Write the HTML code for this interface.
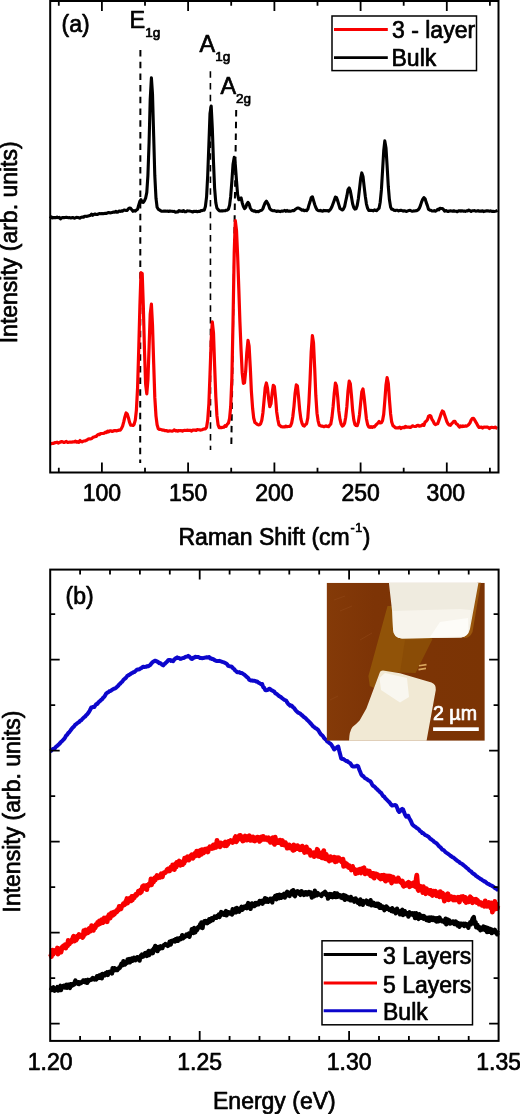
<!DOCTYPE html>
<html><head><meta charset="utf-8"><title>Figure</title>
<style>html,body{margin:0;padding:0;background:#fff;width:520px;height:1114px;overflow:hidden}svg{display:block}</style>
</head><body>
<svg width="520" height="1114" viewBox="0 0 520 1114" font-family="'Liberation Sans', Arial, Helvetica, sans-serif">
<style>text{fill:#000;stroke:#000;stroke-width:0.7px;stroke-linejoin:round}text.w{fill:#fff;stroke:#fff;stroke-width:0.7px}</style>
<rect x="0" y="0" width="520" height="1114" fill="#fff"/>
<g id="pa">
<g stroke="#000" stroke-width="2" stroke-dasharray="6.5 5.2" fill="none">
<line x1="140.4" y1="50" x2="140.2" y2="463"/>
<line x1="210.4" y1="71.3" x2="210.5" y2="450" stroke-width="1.6"/>
<line x1="236.2" y1="110" x2="231.3" y2="447"/>
</g>
<polyline fill="none" stroke="#000" stroke-width="3.1" stroke-linejoin="round" points="50.2,218.5 51.4,216.9 52.5,217.9 53.6,217.6 54.8,217.6 55.9,217.7 57.1,217.0 58.2,217.7 59.4,217.4 60.5,218.9 61.7,217.8 62.8,217.6 64.0,217.6 65.1,217.5 66.3,217.3 67.4,217.5 68.6,217.8 69.7,217.6 70.9,218.0 72.0,217.6 73.2,217.6 74.3,218.2 75.5,217.8 76.6,217.4 77.8,217.5 78.9,217.8 80.1,218.2 81.2,217.2 82.4,217.0 83.5,217.2 84.7,216.2 85.8,216.2 87.0,216.4 88.1,216.0 89.3,215.6 90.4,215.5 91.6,214.1 92.7,215.3 93.9,214.4 95.0,214.0 96.2,214.5 97.3,214.5 98.5,213.9 99.6,213.5 100.8,213.7 101.9,213.5 103.1,213.8 104.2,213.5 105.4,213.2 106.5,213.4 107.7,212.8 108.8,212.5 110.0,212.9 111.1,212.8 112.3,212.4 113.4,212.1 114.6,212.3 115.7,211.3 116.9,212.3 118.0,212.0 119.2,211.0 120.3,211.4 121.5,210.8 122.6,211.2 123.8,210.0 124.9,210.1 126.1,210.5 127.2,210.4 128.4,208.8 129.5,208.0 130.7,208.3 131.8,209.8 133.0,211.3 134.1,210.6 135.3,211.1 136.4,210.1 137.6,209.2 138.7,205.1 139.9,201.1 141.0,199.7 142.2,202.3 143.3,202.4 144.5,200.6 145.6,198.2 146.8,192.4 147.9,175.6 149.1,141.7 150.2,99.7 151.4,77.8 152.5,93.9 153.7,136.5 154.8,175.7 156.0,198.3 157.1,207.3 158.3,209.3 159.4,209.9 160.6,210.7 161.7,211.3 162.9,211.3 164.0,211.1 165.2,211.0 166.3,211.3 167.5,211.1 168.6,211.5 169.8,211.0 170.9,211.3 172.1,211.3 173.2,211.5 174.4,211.4 175.5,212.2 176.7,211.9 177.8,211.9 179.0,210.6 180.1,211.2 181.3,211.1 182.4,211.5 183.6,210.6 184.7,211.8 185.9,211.7 187.0,210.9 188.2,211.0 189.3,211.0 190.5,211.3 191.6,211.5 192.8,212.0 193.9,211.2 195.1,211.5 196.2,211.3 197.4,211.8 198.5,211.4 199.7,211.5 200.8,210.6 202.0,210.7 203.1,210.2 204.3,210.1 205.4,206.5 206.6,196.6 207.7,175.5 208.9,143.8 210.0,113.5 211.2,106.1 212.3,127.9 213.5,162.0 214.6,188.1 215.8,202.6 216.9,208.0 218.1,209.6 219.2,210.7 220.4,211.0 221.5,210.8 222.7,210.9 223.8,210.8 225.0,210.8 226.1,210.2 227.3,210.2 228.4,209.2 229.6,205.1 230.7,196.2 231.9,180.9 233.0,164.5 234.2,157.4 235.3,164.4 236.5,180.6 237.6,194.5 238.8,199.7 239.9,199.3 241.1,197.9 242.2,202.7 243.4,206.6 244.5,208.6 245.7,207.4 246.8,204.2 248.0,202.3 249.1,203.9 250.3,208.0 251.4,209.7 252.6,210.7 253.7,211.2 254.9,210.8 256.0,211.8 257.2,211.4 258.3,211.8 259.5,210.9 260.6,210.6 261.8,210.1 262.9,208.6 264.1,205.3 265.2,202.6 266.4,201.1 267.5,203.0 268.7,205.3 269.8,208.7 271.0,209.8 272.1,210.4 273.3,210.7 274.4,210.6 275.6,211.1 276.7,211.4 277.9,211.1 279.0,211.2 280.2,211.6 281.3,211.1 282.5,211.1 283.6,210.9 284.8,210.4 285.9,211.3 287.1,210.4 288.2,211.2 289.4,211.0 290.5,211.3 291.7,210.9 292.8,210.5 294.0,210.6 295.1,209.5 296.3,208.7 297.4,208.0 298.6,208.0 299.7,208.7 300.9,209.4 302.0,210.3 303.2,209.9 304.3,210.7 305.5,210.2 306.6,210.6 307.8,209.3 308.9,205.2 310.1,201.6 311.2,197.8 312.4,196.8 313.5,200.4 314.7,204.5 315.8,207.5 317.0,209.8 318.1,210.5 319.3,210.8 320.4,210.4 321.6,211.0 322.7,211.1 323.9,210.4 325.0,210.6 326.2,210.8 327.3,210.6 328.5,211.2 329.6,210.3 330.8,208.9 331.9,206.7 333.1,203.5 334.2,200.4 335.4,197.0 336.5,197.6 337.7,200.9 338.8,204.6 340.0,208.5 341.1,209.2 342.3,210.0 343.4,209.0 344.6,206.6 345.7,201.3 346.9,195.9 348.0,189.6 349.2,187.9 350.3,190.9 351.5,197.3 352.6,203.7 353.8,207.6 354.9,209.1 356.1,208.7 357.2,205.4 358.4,198.5 359.5,188.8 360.7,178.4 361.8,172.9 363.0,176.4 364.1,186.1 365.3,196.3 366.4,203.8 367.6,208.3 368.7,210.4 369.9,210.2 371.0,210.4 372.2,210.5 373.3,210.9 374.5,209.8 375.6,210.5 376.8,210.6 377.9,209.3 379.1,208.1 380.2,202.2 381.4,189.9 382.5,171.5 383.7,151.0 384.8,140.9 386.0,148.1 387.1,165.7 388.3,186.5 389.4,199.6 390.6,207.0 391.7,209.3 392.9,209.4 394.0,210.3 395.2,210.6 396.3,210.3 397.5,210.2 398.6,210.9 399.8,210.5 400.9,210.2 402.1,210.6 403.2,211.1 404.4,210.7 405.5,211.2 406.7,211.4 407.8,210.9 409.0,210.5 410.1,210.4 411.3,210.9 412.4,211.2 413.6,210.9 414.7,211.0 415.9,210.6 417.0,210.6 418.2,209.7 419.3,208.3 420.5,205.4 421.6,201.9 422.8,199.2 423.9,197.6 425.1,198.8 426.2,202.4 427.4,205.6 428.5,209.2 429.7,210.1 430.8,210.2 432.0,211.0 433.1,211.0 434.3,210.6 435.4,211.3 436.6,210.5 437.7,209.3 438.9,209.8 440.0,208.2 441.2,208.5 442.3,208.5 443.5,209.5 444.6,211.2 445.8,210.5 446.9,211.0 448.1,211.5 449.2,211.0 450.4,210.9 451.5,211.0 452.7,211.3 453.8,210.7 455.0,211.2 456.1,211.2 457.3,211.8 458.4,210.9 459.6,210.7 460.7,211.2 461.9,210.8 463.0,211.1 464.2,211.0 465.3,211.4 466.5,210.8 467.6,210.9 468.8,210.1 469.9,210.7 471.1,211.5 472.2,210.7 473.4,210.7 474.5,210.6 475.7,211.2 476.8,211.0 478.0,210.6 479.1,211.2 480.3,211.1 481.4,211.3 482.6,210.8 483.7,211.6 484.9,211.1 486.0,210.9 487.2,210.8 488.3,210.9 489.5,211.3 490.6,210.9 491.8,211.4 492.9,211.2 494.1,211.5 495.2,211.3 496.4,211.0 497.5,210.3"/>
<polyline fill="none" stroke="#f80000" stroke-width="3.2" stroke-linejoin="round" points="50.2,443.6 51.4,443.7 52.5,443.3 53.6,443.3 54.8,442.7 55.9,442.6 57.1,442.2 58.2,443.1 59.4,442.5 60.5,442.0 61.7,441.5 62.8,441.9 64.0,442.5 65.1,442.0 66.3,441.4 67.4,442.3 68.6,442.3 69.7,442.1 70.9,442.0 72.0,442.1 73.2,441.8 74.3,441.9 75.5,441.2 76.6,442.2 77.8,441.6 78.9,442.3 80.1,440.5 81.2,441.7 82.4,441.8 83.5,441.0 84.7,440.9 85.8,440.6 87.0,440.1 88.1,439.1 89.3,438.9 90.4,439.0 91.6,438.6 92.7,437.6 93.9,437.1 95.0,436.6 96.2,436.5 97.3,435.1 98.5,434.4 99.6,434.6 100.8,433.6 101.9,433.5 103.1,433.4 104.2,433.2 105.4,432.2 106.5,432.6 107.7,431.1 108.8,431.8 110.0,430.8 111.1,430.8 112.3,431.5 113.4,430.9 114.6,430.6 115.7,430.6 116.9,430.9 118.0,430.4 119.2,430.1 120.3,430.1 121.5,428.4 122.6,426.1 123.8,421.7 124.9,416.9 126.1,413.0 127.2,413.9 128.4,417.7 129.5,422.1 130.7,425.1 131.8,425.3 133.0,425.5 134.1,424.4 135.3,420.1 136.4,410.1 137.6,387.4 138.7,350.5 139.9,306.0 141.0,272.7 142.2,273.6 143.3,305.5 144.5,350.5 145.6,383.7 146.8,393.8 147.9,380.4 149.1,346.8 150.2,314.3 151.4,304.2 152.5,325.2 153.7,363.9 154.8,397.4 156.0,416.1 157.1,424.8 158.3,428.7 159.4,429.5 160.6,429.4 161.7,429.9 162.9,430.1 164.0,430.2 165.2,430.7 166.3,430.5 167.5,431.2 168.6,431.1 169.8,430.8 170.9,431.0 172.1,431.1 173.2,430.8 174.4,429.9 175.5,430.9 176.7,430.5 177.8,431.2 179.0,430.5 180.1,430.7 181.3,430.6 182.4,431.2 183.6,430.5 184.7,430.3 185.9,430.5 187.0,430.2 188.2,430.4 189.3,430.3 190.5,430.4 191.6,431.1 192.8,430.1 193.9,430.2 195.1,430.1 196.2,430.4 197.4,429.5 198.5,429.7 199.7,429.9 200.8,430.1 202.0,429.7 203.1,429.3 204.3,428.9 205.4,428.9 206.6,427.3 207.7,420.1 208.9,403.6 210.0,374.6 211.2,340.2 212.3,321.8 213.5,333.0 214.6,365.1 215.8,396.4 216.9,415.4 218.1,424.9 219.2,427.7 220.4,427.4 221.5,427.6 222.7,427.3 223.8,427.2 225.0,425.6 226.1,426.3 227.3,424.2 228.4,423.1 229.6,418.4 230.7,406.5 231.9,377.4 233.0,322.5 234.2,253.4 235.3,220.6 236.5,230.5 237.6,254.8 238.8,288.6 239.9,321.6 241.1,350.5 242.2,372.7 243.4,383.3 244.5,382.8 245.7,370.8 246.8,352.6 248.0,340.4 249.1,346.1 250.3,367.5 251.4,391.7 252.6,408.3 253.7,418.0 254.9,422.5 256.0,423.3 257.2,424.4 258.3,424.9 259.5,424.7 260.6,423.8 261.8,420.2 262.9,413.0 264.1,400.0 265.2,387.6 266.4,383.0 267.5,388.1 268.7,399.2 269.8,406.7 271.0,403.7 272.1,393.6 273.3,385.3 274.4,386.6 275.6,398.1 276.7,412.0 277.9,419.8 279.0,424.9 280.2,425.8 281.3,426.7 282.5,426.8 283.6,426.9 284.8,426.9 285.9,426.1 287.1,426.7 288.2,426.5 289.4,426.4 290.5,426.0 291.7,422.9 292.8,416.8 294.0,406.1 295.1,393.2 296.3,384.9 297.4,385.9 298.6,397.7 299.7,410.1 300.9,419.1 302.0,423.2 303.2,425.6 304.3,426.1 305.5,424.5 306.6,423.8 307.8,417.9 308.9,402.9 310.1,378.6 311.2,351.9 312.4,335.7 313.5,342.7 314.7,368.5 315.8,395.2 317.0,413.2 318.1,420.8 319.3,425.3 320.4,425.6 321.6,426.2 322.7,426.2 323.9,426.7 325.0,426.2 326.2,425.9 327.3,426.5 328.5,426.7 329.6,425.3 330.8,424.0 331.9,417.8 333.1,406.7 334.2,393.8 335.4,383.1 336.5,385.9 337.7,397.1 338.8,411.0 340.0,419.4 341.1,423.9 342.3,426.1 343.4,425.4 344.6,423.3 345.7,417.3 346.9,406.4 348.0,391.1 349.2,381.2 350.3,383.7 351.5,395.8 352.6,410.0 353.8,419.9 354.9,424.3 356.1,425.5 357.2,425.7 358.4,422.1 359.5,414.7 360.7,402.7 361.8,391.9 363.0,388.9 364.1,397.0 365.3,408.3 366.4,418.7 367.6,424.5 368.7,426.9 369.9,427.3 371.0,426.6 372.2,427.3 373.3,426.6 374.5,426.9 375.6,425.4 376.8,424.1 377.9,423.1 379.1,421.5 380.2,422.9 381.4,422.7 382.5,420.8 383.7,414.4 384.8,401.1 386.0,384.9 387.1,377.7 388.3,383.4 389.4,399.1 390.6,413.9 391.7,422.1 392.9,425.6 394.0,426.4 395.2,427.6 396.3,427.9 397.5,427.9 398.6,427.8 399.8,427.2 400.9,428.5 402.1,427.5 403.2,427.4 404.4,427.7 405.5,426.3 406.7,427.1 407.8,427.0 409.0,427.1 410.1,427.4 411.3,426.9 412.4,425.8 413.6,426.3 414.7,426.5 415.9,426.3 417.0,425.6 418.2,425.3 419.3,426.1 420.5,425.9 421.6,425.5 422.8,424.5 423.9,425.4 425.1,422.0 426.2,421.2 427.4,419.8 428.5,416.4 429.7,415.6 430.8,416.0 432.0,419.6 433.1,421.0 434.3,423.6 435.4,424.6 436.6,424.0 437.7,423.8 438.9,420.4 440.0,417.2 441.2,413.6 442.3,411.0 443.5,411.8 444.6,415.0 445.8,418.5 446.9,421.8 448.1,424.0 449.2,424.9 450.4,425.3 451.5,423.8 452.7,422.6 453.8,421.4 455.0,421.4 456.1,423.6 457.3,424.3 458.4,425.8 459.6,427.0 460.7,426.0 461.9,426.6 463.0,425.9 464.2,426.4 465.3,425.9 466.5,426.2 467.6,425.5 468.8,424.5 469.9,423.1 471.1,420.2 472.2,418.6 473.4,418.3 474.5,419.8 475.7,421.9 476.8,423.7 478.0,426.0 479.1,427.5 480.3,427.3 481.4,427.0 482.6,428.1 483.7,427.2 484.9,427.2 486.0,427.0 487.2,427.1 488.3,427.5 489.5,428.5 490.6,427.6 491.8,427.3 492.9,427.5 494.1,427.7 495.2,427.1 496.4,428.0 497.5,428.3"/>
<rect x="50.2" y="1.0" width="448.3" height="471.5" fill="none" stroke="#000" stroke-width="2"/>
<path d="M58.8,472.5v-4.8M58.8,1.0v4.8M101.9,472.5v-10M101.9,1.0v10M145.0,472.5v-4.8M145.0,1.0v4.8M188.1,472.5v-10M188.1,1.0v10M231.2,472.5v-4.8M231.2,1.0v4.8M274.4,472.5v-10M274.4,1.0v10M317.5,472.5v-4.8M317.5,1.0v4.8M360.6,472.5v-10M360.6,1.0v10M403.7,472.5v-4.8M403.7,1.0v4.8M446.8,472.5v-10M446.8,1.0v10M489.9,472.5v-4.8M489.9,1.0v4.8" stroke="#000" stroke-width="1.8" fill="none"/>
<text x="101.9" y="500.5" font-size="23" text-anchor="middle">100</text>
<text x="188.1" y="500.5" font-size="23" text-anchor="middle">150</text>
<text x="274.4" y="500.5" font-size="23" text-anchor="middle">200</text>
<text x="360.6" y="500.5" font-size="23" text-anchor="middle">250</text>
<text x="445.8" y="500.5" font-size="23" text-anchor="middle">300</text>
<text x="178.5" y="545" font-size="23">Raman Shift (cm<tspan font-size="12.5" dy="-13.2" dx="0.8">-</tspan><tspan font-size="12.5" dx="0.6">1</tspan><tspan dy="13.2" dx="0.4">)</tspan></text>
<text transform="translate(17.3,343.3) rotate(-90)" font-size="23">Intensity (arb. units)</text>
<text x="61.5" y="32.2" font-size="23">(a)</text>
<text x="129.6" y="27.9" font-size="23.5">E<tspan font-size="13.5" dy="8.6">1g</tspan></text>
<text x="199.5" y="52" font-size="23.5">A<tspan font-size="13.5" dy="9">1g</tspan></text>
<text x="220.4" y="94" font-size="23.5">A<tspan font-size="13.5" dy="9.3">2g</tspan></text>
<rect x="332" y="16" width="144.5" height="54.6" fill="#fff" stroke="#000" stroke-width="1.5"/>
<line x1="334" y1="29.5" x2="387.8" y2="29.5" stroke="#f80000" stroke-width="3"/>
<line x1="334" y1="57.7" x2="387.8" y2="57.7" stroke="#000" stroke-width="2.8"/>
<text x="392" y="38" font-size="23">3 - layer</text>
<text x="391.5" y="66" font-size="23">Bulk</text>
</g>
<g id="pb">
<polyline fill="none" stroke="#000" stroke-width="4.3" stroke-linejoin="round" points="50.2,990.5 50.8,990.3 51.4,989.0 52.0,989.5 52.6,987.6 53.2,987.3 53.8,990.4 54.4,990.8 55.0,989.5 55.6,989.2 56.2,988.1 56.8,988.3 57.4,987.1 58.0,990.6 58.6,987.3 59.2,988.5 59.8,987.8 60.4,985.8 61.0,990.2 61.6,987.0 62.2,986.3 62.8,987.4 63.4,985.9 64.0,987.1 64.6,985.6 65.2,987.6 65.8,986.8 66.4,984.7 67.0,987.8 67.6,986.5 68.2,984.6 68.8,986.4 69.4,986.3 70.0,988.0 70.6,984.1 71.2,986.1 71.8,984.6 72.4,985.3 73.0,983.9 73.6,983.9 74.2,984.4 74.8,981.9 75.4,980.5 76.0,983.1 76.6,982.4 77.2,982.9 77.8,983.6 78.4,982.3 79.0,984.1 79.6,982.3 80.2,982.4 80.8,983.2 81.4,982.8 82.0,981.7 82.6,981.9 83.2,980.5 83.8,980.5 84.4,981.3 85.0,982.1 85.6,980.2 86.2,981.7 86.8,982.9 87.4,982.9 88.0,979.8 88.6,981.0 89.2,980.1 89.8,980.1 90.4,980.0 91.0,979.4 91.6,979.6 92.2,978.6 92.8,977.9 93.4,978.4 94.0,978.6 94.6,979.5 95.2,978.2 95.8,978.6 96.4,979.4 97.0,976.1 97.6,976.9 98.2,977.8 98.8,976.9 99.4,975.4 100.0,977.9 100.6,976.2 101.2,974.8 101.8,978.4 102.4,973.9 103.0,975.4 103.6,974.2 104.2,975.0 104.8,975.4 105.4,973.2 106.0,974.0 106.6,973.7 107.2,972.3 107.8,975.0 108.4,973.4 109.0,972.6 109.6,971.8 110.2,972.1 110.8,972.5 111.4,971.5 112.0,973.5 112.6,968.1 113.2,968.4 113.8,970.6 114.4,968.1 115.0,970.1 115.6,968.8 116.2,970.0 116.8,969.3 117.4,970.0 118.0,969.0 118.6,968.9 119.2,967.5 119.8,967.8 120.4,966.6 121.0,964.8 121.6,963.5 122.2,963.3 122.8,965.3 123.4,961.1 124.0,964.3 124.6,962.7 125.2,964.5 125.8,963.5 126.4,961.9 127.0,962.7 127.6,959.3 128.2,962.5 128.8,962.4 129.4,959.0 130.0,962.4 130.6,960.7 131.2,960.8 131.8,958.4 132.4,960.8 133.0,960.5 133.6,959.4 134.2,957.8 134.8,959.9 135.4,960.3 136.0,958.9 136.6,959.4 137.2,957.1 137.8,957.8 138.4,957.9 139.0,957.3 139.6,960.7 140.2,957.2 140.8,955.7 141.4,957.3 142.0,954.5 142.6,956.2 143.2,956.5 143.8,954.5 144.4,954.4 145.0,953.3 145.6,954.5 146.2,953.1 146.8,956.0 147.4,954.3 148.0,952.8 148.6,950.9 149.2,955.2 149.8,953.9 150.4,952.5 151.0,951.8 151.6,951.5 152.2,950.3 152.8,953.2 153.4,950.6 154.0,948.1 154.6,948.8 155.2,945.9 155.8,950.0 156.4,949.9 157.0,950.9 157.6,951.1 158.2,946.9 158.8,948.3 159.4,948.8 160.0,948.3 160.6,946.3 161.2,947.8 161.8,947.1 162.4,948.1 163.0,946.0 163.6,945.4 164.2,944.8 164.8,944.8 165.4,944.0 166.0,944.3 166.6,945.2 167.2,944.9 167.8,945.9 168.4,945.3 169.0,944.4 169.6,941.8 170.2,943.9 170.8,944.4 171.4,940.9 172.0,940.9 172.6,940.8 173.2,940.4 173.8,941.2 174.4,940.0 175.0,941.5 175.6,939.1 176.2,940.2 176.8,939.4 177.4,938.5 178.0,940.9 178.6,939.2 179.2,939.6 179.8,938.2 180.4,939.3 181.0,938.9 181.6,937.6 182.2,935.1 182.8,938.4 183.4,938.0 184.0,937.1 184.6,936.9 185.2,936.5 185.8,936.4 186.4,934.5 187.0,935.6 187.6,935.8 188.2,934.3 188.8,933.5 189.4,936.9 190.0,934.9 190.6,933.2 191.2,932.6 191.8,929.2 192.4,930.4 193.0,931.4 193.6,933.0 194.2,928.0 194.8,929.3 195.4,932.3 196.0,930.1 196.6,929.3 197.2,929.8 197.8,927.5 198.4,926.9 199.0,927.6 199.6,927.3 200.2,924.2 200.8,927.2 201.4,922.3 202.0,923.3 202.6,928.0 203.2,922.7 203.8,923.9 204.4,921.3 205.0,921.8 205.6,920.9 206.2,921.0 206.8,922.1 207.4,923.2 208.0,921.7 208.6,922.3 209.2,919.2 209.8,921.6 210.4,920.1 211.0,920.9 211.6,918.2 212.2,918.2 212.8,920.1 213.4,918.8 214.0,917.9 214.6,916.6 215.2,917.2 215.8,917.8 216.4,917.9 217.0,915.9 217.6,916.0 218.2,916.8 218.8,914.5 219.4,917.1 220.0,915.6 220.6,915.3 221.2,912.0 221.8,912.9 222.4,913.4 223.0,913.9 223.6,913.0 224.2,914.8 224.8,914.3 225.4,913.6 226.0,911.0 226.6,915.4 227.2,913.0 227.8,914.0 228.4,912.1 229.0,912.8 229.6,913.6 230.2,912.8 230.8,913.6 231.4,911.9 232.0,914.6 232.6,909.2 233.2,910.8 233.8,912.7 234.4,910.9 235.0,910.5 235.6,908.5 236.2,912.3 236.8,908.0 237.4,911.0 238.0,910.4 238.6,911.2 239.2,911.8 239.8,908.7 240.4,908.3 241.0,908.8 241.6,906.7 242.2,909.9 242.8,908.0 243.4,908.5 244.0,906.6 244.6,907.8 245.2,906.8 245.8,907.2 246.4,905.6 247.0,908.2 247.6,905.8 248.2,903.0 248.8,907.1 249.4,905.6 250.0,904.6 250.6,908.9 251.2,905.3 251.8,903.4 252.4,904.2 253.0,905.3 253.6,904.3 254.2,906.1 254.8,905.7 255.4,903.0 256.0,903.9 256.6,904.6 257.2,903.0 257.8,902.7 258.4,904.4 259.0,903.6 259.6,900.9 260.2,901.9 260.8,901.9 261.4,902.1 262.0,901.1 262.6,903.7 263.2,900.4 263.8,900.1 264.4,901.7 265.0,898.2 265.6,899.7 266.2,901.7 266.8,898.9 267.4,899.4 268.0,901.8 268.6,900.8 269.2,900.1 269.8,900.2 270.4,898.8 271.0,899.9 271.6,899.0 272.2,902.5 272.8,899.6 273.4,898.2 274.0,898.3 274.6,898.1 275.2,895.9 275.8,896.4 276.4,899.3 277.0,895.1 277.6,895.9 278.2,897.9 278.8,898.3 279.4,894.7 280.0,897.9 280.6,895.2 281.2,897.8 281.8,896.1 282.4,894.9 283.0,896.1 283.6,895.7 284.2,893.8 284.8,897.6 285.4,894.1 286.0,896.0 286.6,893.6 287.2,891.7 287.8,892.5 288.4,893.7 289.0,894.6 289.6,896.0 290.2,893.6 290.8,893.0 291.4,891.6 292.0,893.2 292.6,893.6 293.2,890.1 293.8,894.9 294.4,894.6 295.0,896.2 295.6,891.9 296.2,893.1 296.8,893.1 297.4,891.3 298.0,891.9 298.6,891.7 299.2,893.8 299.8,893.7 300.4,894.9 301.0,892.6 301.6,891.2 302.2,893.7 302.8,893.7 303.4,894.1 304.0,895.0 304.6,892.5 305.2,894.5 305.8,892.1 306.4,893.7 307.0,894.5 307.6,893.5 308.2,894.0 308.8,891.9 309.4,893.0 310.0,894.2 310.6,892.4 311.2,893.0 311.8,897.5 312.4,894.6 313.0,893.2 313.6,893.0 314.2,896.3 314.8,890.7 315.4,894.0 316.0,895.3 316.6,893.7 317.2,895.2 317.8,893.0 318.4,894.4 319.0,894.5 319.6,894.5 320.2,894.6 320.8,894.5 321.4,896.0 322.0,894.1 322.6,893.6 323.2,894.1 323.8,894.0 324.4,892.4 325.0,891.9 325.6,892.7 326.2,895.0 326.8,893.7 327.4,894.2 328.0,898.7 328.6,896.4 329.2,894.6 329.8,894.1 330.4,896.9 331.0,894.1 331.6,896.9 332.2,896.1 332.8,897.2 333.4,894.4 334.0,896.7 334.6,893.1 335.2,895.3 335.8,897.1 336.4,896.6 337.0,893.3 337.6,896.8 338.2,896.5 338.8,895.9 339.4,895.1 340.0,895.8 340.6,895.5 341.2,897.6 341.8,897.1 342.4,898.0 343.0,897.6 343.6,895.0 344.2,897.1 344.8,899.9 345.4,895.7 346.0,897.8 346.6,896.5 347.2,896.6 347.8,898.3 348.4,899.4 349.0,899.5 349.6,899.3 350.2,900.2 350.8,896.9 351.4,900.4 352.0,900.1 352.6,899.5 353.2,899.9 353.8,898.9 354.4,901.7 355.0,899.3 355.6,898.4 356.2,900.5 356.8,899.9 357.4,900.7 358.0,902.9 358.6,900.8 359.2,901.3 359.8,904.3 360.4,899.4 361.0,901.9 361.6,903.1 362.2,903.7 362.8,904.8 363.4,901.0 364.0,902.9 364.6,902.0 365.2,901.7 365.8,901.4 366.4,900.6 367.0,903.1 367.6,903.8 368.2,901.5 368.8,904.2 369.4,902.5 370.0,902.1 370.6,900.1 371.2,905.3 371.8,905.0 372.4,903.7 373.0,903.8 373.6,902.8 374.2,905.4 374.8,904.8 375.4,905.8 376.0,905.5 376.6,903.6 377.2,903.6 377.8,906.4 378.4,903.8 379.0,906.6 379.6,907.7 380.2,904.9 380.8,907.7 381.4,907.0 382.0,907.9 382.6,906.5 383.2,907.4 383.8,908.2 384.4,910.2 385.0,908.9 385.6,908.7 386.2,906.4 386.8,908.7 387.4,907.4 388.0,908.4 388.6,909.0 389.2,910.0 389.8,909.6 390.4,909.2 391.0,909.0 391.6,911.1 392.2,908.2 392.8,909.6 393.4,911.6 394.0,909.7 394.6,911.2 395.2,911.5 395.8,913.2 396.4,912.2 397.0,908.6 397.6,911.1 398.2,911.6 398.8,912.6 399.4,912.1 400.0,914.4 400.6,913.5 401.2,910.6 401.8,911.5 402.4,909.7 403.0,915.1 403.6,912.7 404.2,912.9 404.8,911.1 405.4,912.8 406.0,914.1 406.6,913.1 407.2,913.2 407.8,913.1 408.4,916.7 409.0,913.4 409.6,912.3 410.2,913.7 410.8,914.0 411.4,914.5 412.0,914.4 412.6,913.3 413.2,914.7 413.8,915.6 414.4,913.3 415.0,918.1 415.6,917.9 416.2,913.2 416.8,915.4 417.4,917.4 418.0,918.1 418.6,918.9 419.2,914.1 419.8,915.3 420.4,916.3 421.0,917.9 421.6,915.8 422.2,918.0 422.8,918.2 423.4,918.7 424.0,916.0 424.6,918.2 425.2,918.1 425.8,917.5 426.4,920.0 427.0,917.9 427.6,920.3 428.2,917.6 428.8,920.8 429.4,920.8 430.0,917.5 430.6,919.1 431.2,919.2 431.8,917.5 432.4,920.0 433.0,919.8 433.6,917.8 434.2,919.2 434.8,920.4 435.4,919.1 436.0,918.4 436.6,921.7 437.2,918.2 437.8,920.1 438.4,921.3 439.0,921.0 439.6,917.5 440.2,919.7 440.8,920.1 441.4,920.1 442.0,921.4 442.6,921.4 443.2,920.9 443.8,921.2 444.4,922.4 445.0,922.8 445.6,918.6 446.2,924.3 446.8,920.7 447.4,922.7 448.0,919.5 448.6,921.1 449.2,920.2 449.8,923.6 450.4,923.4 451.0,922.3 451.6,922.2 452.2,923.1 452.8,921.4 453.4,922.0 454.0,921.9 454.6,924.1 455.2,923.2 455.8,921.5 456.4,923.8 457.0,924.2 457.6,925.5 458.2,923.0 458.8,924.4 459.4,926.8 460.0,923.6 460.6,923.7 461.2,925.0 461.8,923.7 462.4,924.5 463.0,924.0 463.6,923.7 464.2,926.1 464.8,924.4 465.4,923.7 466.0,924.7 466.6,925.0 467.2,925.7 467.8,926.6 468.4,927.8 469.0,923.7 469.6,924.9 470.2,922.3 470.8,924.4 471.4,923.6 472.0,920.5 472.6,918.6 473.2,917.7 473.8,917.1 474.4,921.1 475.0,924.5 475.6,922.0 476.2,927.3 476.8,925.9 477.4,924.8 478.0,927.8 478.6,928.4 479.2,928.1 479.8,927.4 480.4,930.3 481.0,927.8 481.6,929.3 482.2,929.5 482.8,927.6 483.4,926.5 484.0,926.8 484.6,928.8 485.2,930.1 485.8,927.3 486.4,928.9 487.0,932.2 487.6,927.8 488.2,931.0 488.8,931.0 489.4,931.8 490.0,928.8 490.6,931.4 491.2,929.2 491.8,933.1 492.4,930.2 493.0,932.0 493.6,930.5 494.2,931.9 494.8,929.7 495.4,932.3 496.0,932.8 496.6,932.1 497.2,934.4 497.8,932.7 498.4,933.3"/>
<polyline fill="none" stroke="#f80000" stroke-width="4.8" stroke-linejoin="round" points="50.2,953.7 50.8,954.7 51.4,956.5 52.0,953.1 52.6,950.2 53.2,954.1 53.8,952.9 54.4,950.7 55.0,950.4 55.6,950.6 56.2,951.5 56.8,952.1 57.4,948.0 58.0,954.0 58.6,949.7 59.2,948.7 59.8,950.1 60.4,948.8 61.0,952.2 61.6,949.7 62.2,946.9 62.8,946.5 63.4,945.9 64.0,945.8 64.6,947.2 65.2,944.6 65.8,948.1 66.4,944.8 67.0,944.3 67.6,945.8 68.2,940.4 68.8,941.7 69.4,943.9 70.0,942.4 70.6,941.9 71.2,942.1 71.8,939.9 72.4,940.1 73.0,937.6 73.6,936.2 74.2,941.1 74.8,937.0 75.4,936.9 76.0,940.1 76.6,939.2 77.2,936.1 77.8,935.8 78.4,936.3 79.0,934.5 79.6,936.7 80.2,935.8 80.8,935.5 81.4,936.2 82.0,935.8 82.6,937.4 83.2,936.6 83.8,930.7 84.4,934.8 85.0,931.0 85.6,930.1 86.2,933.3 86.8,930.5 87.4,930.7 88.0,932.7 88.6,929.3 89.2,928.5 89.8,930.1 90.4,931.2 91.0,929.6 91.6,925.6 92.2,926.8 92.8,927.2 93.4,930.3 94.0,928.1 94.6,927.6 95.2,927.8 95.8,924.8 96.4,925.7 97.0,925.3 97.6,922.4 98.2,923.6 98.8,924.1 99.4,920.9 100.0,923.7 100.6,923.2 101.2,923.2 101.8,919.7 102.4,920.8 103.0,922.6 103.6,921.1 104.2,918.0 104.8,919.3 105.4,920.9 106.0,918.0 106.6,918.4 107.2,921.7 107.8,916.9 108.4,916.5 109.0,914.6 109.6,914.8 110.2,918.1 110.8,915.0 111.4,912.9 112.0,913.0 112.6,914.2 113.2,915.1 113.8,912.1 114.4,914.1 115.0,911.6 115.6,912.5 116.2,912.2 116.8,911.8 117.4,909.5 118.0,909.4 118.6,909.9 119.2,906.3 119.8,908.3 120.4,908.3 121.0,908.7 121.6,906.3 122.2,905.6 122.8,905.6 123.4,903.6 124.0,904.0 124.6,904.6 125.2,903.9 125.8,901.2 126.4,902.0 127.0,898.5 127.6,903.0 128.2,900.3 128.8,901.2 129.4,898.5 130.0,899.8 130.6,900.3 131.2,900.8 131.8,896.4 132.4,899.8 133.0,897.7 133.6,896.2 134.2,897.8 134.8,896.0 135.4,895.5 136.0,894.3 136.6,895.2 137.2,894.3 137.8,893.3 138.4,891.2 139.0,891.3 139.6,892.1 140.2,892.9 140.8,890.0 141.4,891.8 142.0,888.8 142.6,886.4 143.2,888.8 143.8,885.6 144.4,887.5 145.0,888.3 145.6,885.6 146.2,885.6 146.8,889.6 147.4,885.4 148.0,885.2 148.6,885.7 149.2,883.8 149.8,883.5 150.4,883.9 151.0,878.8 151.6,884.8 152.2,880.2 152.8,879.7 153.4,882.0 154.0,880.6 154.6,877.9 155.2,879.9 155.8,877.1 156.4,877.4 157.0,875.5 157.6,876.2 158.2,877.8 158.8,876.9 159.4,876.7 160.0,877.3 160.6,875.3 161.2,873.8 161.8,874.0 162.4,876.9 163.0,873.7 163.6,873.8 164.2,872.6 164.8,872.8 165.4,872.7 166.0,871.6 166.6,871.0 167.2,869.5 167.8,869.0 168.4,870.8 169.0,871.0 169.6,870.9 170.2,869.1 170.8,867.2 171.4,869.3 172.0,868.9 172.6,865.0 173.2,868.6 173.8,867.9 174.4,869.4 175.0,864.4 175.6,863.8 176.2,867.0 176.8,862.4 177.4,863.9 178.0,863.0 178.6,862.8 179.2,861.0 179.8,863.5 180.4,865.3 181.0,864.0 181.6,863.7 182.2,861.9 182.8,864.6 183.4,862.6 184.0,863.1 184.6,858.2 185.2,861.0 185.8,858.0 186.4,860.1 187.0,859.5 187.6,856.8 188.2,858.7 188.8,860.0 189.4,858.5 190.0,858.4 190.6,855.7 191.2,855.7 191.8,854.8 192.4,856.6 193.0,858.2 193.6,856.7 194.2,855.7 194.8,853.5 195.4,855.9 196.0,854.4 196.6,851.2 197.2,851.2 197.8,853.2 198.4,851.9 199.0,855.8 199.6,852.7 200.2,850.5 200.8,851.1 201.4,854.3 202.0,849.6 202.6,852.2 203.2,851.4 203.8,852.8 204.4,851.0 205.0,849.1 205.6,850.5 206.2,849.4 206.8,850.7 207.4,848.8 208.0,852.0 208.6,848.2 209.2,848.9 209.8,846.8 210.4,847.9 211.0,847.5 211.6,847.5 212.2,848.5 212.8,845.8 213.4,845.0 214.0,848.0 214.6,845.4 215.2,844.5 215.8,847.4 216.4,846.5 217.0,840.5 217.6,844.2 218.2,846.0 218.8,845.9 219.4,843.5 220.0,846.9 220.6,842.8 221.2,843.6 221.8,844.1 222.4,843.8 223.0,845.1 223.6,845.3 224.2,843.4 224.8,845.7 225.4,842.0 226.0,842.6 226.6,845.7 227.2,842.8 227.8,844.2 228.4,841.5 229.0,841.5 229.6,841.5 230.2,841.7 230.8,840.6 231.4,840.9 232.0,841.8 232.6,842.5 233.2,840.4 233.8,841.0 234.4,841.3 235.0,837.7 235.6,836.6 236.2,841.8 236.8,841.0 237.4,838.7 238.0,839.0 238.6,836.7 239.2,835.8 239.8,838.5 240.4,835.4 241.0,839.4 241.6,836.7 242.2,838.3 242.8,841.0 243.4,840.9 244.0,837.3 244.6,839.6 245.2,836.0 245.8,836.8 246.4,838.4 247.0,840.1 247.6,836.8 248.2,838.7 248.8,838.0 249.4,835.7 250.0,837.6 250.6,840.4 251.2,837.8 251.8,838.8 252.4,839.4 253.0,836.9 253.6,840.3 254.2,840.8 254.8,841.0 255.4,840.6 256.0,837.7 256.6,837.5 257.2,837.3 257.8,837.1 258.4,837.4 259.0,840.4 259.6,841.3 260.2,837.8 260.8,840.3 261.4,836.8 262.0,838.5 262.6,837.4 263.2,836.4 263.8,839.3 264.4,839.4 265.0,838.6 265.6,838.5 266.2,837.8 266.8,839.3 267.4,838.6 268.0,840.1 268.6,837.8 269.2,840.3 269.8,840.9 270.4,842.3 271.0,842.1 271.6,840.8 272.2,839.5 272.8,837.7 273.4,841.0 274.0,843.6 274.6,844.2 275.2,837.2 275.8,840.5 276.4,841.3 277.0,840.3 277.6,842.6 278.2,842.5 278.8,841.6 279.4,842.6 280.0,840.1 280.6,841.2 281.2,841.5 281.8,844.6 282.4,840.5 283.0,843.0 283.6,844.8 284.2,843.5 284.8,845.1 285.4,842.7 286.0,844.7 286.6,845.7 287.2,848.1 287.8,845.7 288.4,847.1 289.0,844.9 289.6,845.2 290.2,847.9 290.8,846.5 291.4,848.1 292.0,847.1 292.6,849.7 293.2,850.3 293.8,845.0 294.4,849.8 295.0,847.5 295.6,847.8 296.2,846.9 296.8,848.5 297.4,845.6 298.0,846.4 298.6,846.6 299.2,848.5 299.8,849.8 300.4,849.7 301.0,849.3 301.6,847.9 302.2,846.1 302.8,850.0 303.4,849.8 304.0,850.4 304.6,852.5 305.2,850.0 305.8,850.2 306.4,846.9 307.0,852.0 307.6,851.1 308.2,850.1 308.8,852.2 309.4,850.0 310.0,851.0 310.6,855.4 311.2,853.4 311.8,853.8 312.4,853.7 313.0,853.6 313.6,852.9 314.2,856.6 314.8,852.7 315.4,854.2 316.0,852.8 316.6,852.7 317.2,849.3 317.8,850.3 318.4,856.4 319.0,856.5 319.6,853.4 320.2,854.3 320.8,855.5 321.4,853.0 322.0,857.9 322.6,853.3 323.2,854.0 323.8,850.7 324.4,858.2 325.0,855.9 325.6,858.7 326.2,854.4 326.8,856.9 327.4,856.6 328.0,857.0 328.6,860.3 329.2,860.9 329.8,859.5 330.4,856.7 331.0,859.1 331.6,860.1 332.2,858.9 332.8,859.2 333.4,859.2 334.0,857.1 334.6,859.3 335.2,861.8 335.8,857.6 336.4,859.7 337.0,861.2 337.6,857.8 338.2,860.1 338.8,857.8 339.4,860.0 340.0,859.0 340.6,860.2 341.2,861.3 341.8,862.0 342.4,862.5 343.0,859.2 343.6,866.4 344.2,863.6 344.8,862.6 345.4,863.7 346.0,865.7 346.6,863.8 347.2,865.1 347.8,865.3 348.4,867.3 349.0,865.5 349.6,867.8 350.2,867.9 350.8,867.4 351.4,870.0 352.0,868.2 352.6,866.4 353.2,869.2 353.8,869.2 354.4,869.2 355.0,869.9 355.6,873.7 356.2,870.4 356.8,871.0 357.4,870.0 358.0,872.9 358.6,870.8 359.2,869.7 359.8,869.2 360.4,872.3 361.0,872.9 361.6,869.0 362.2,869.4 362.8,868.4 363.4,868.3 364.0,867.8 364.6,871.4 365.2,873.9 365.8,871.7 366.4,872.0 367.0,872.0 367.6,870.8 368.2,873.2 368.8,873.8 369.4,871.1 370.0,873.8 370.6,875.7 371.2,874.3 371.8,875.8 372.4,873.4 373.0,876.9 373.6,873.4 374.2,878.1 374.8,874.3 375.4,874.1 376.0,873.9 376.6,874.9 377.2,875.0 377.8,874.8 378.4,875.6 379.0,877.5 379.6,878.1 380.2,876.2 380.8,879.0 381.4,875.4 382.0,875.5 382.6,875.5 383.2,878.6 383.8,875.1 384.4,875.5 385.0,880.2 385.6,881.0 386.2,880.5 386.8,875.8 387.4,878.5 388.0,880.0 388.6,878.8 389.2,876.0 389.8,878.3 390.4,876.2 391.0,877.1 391.6,883.0 392.2,880.6 392.8,877.1 393.4,877.3 394.0,880.8 394.6,879.1 395.2,881.3 395.8,879.4 396.4,880.4 397.0,881.3 397.6,879.3 398.2,878.0 398.8,879.4 399.4,880.5 400.0,881.5 400.6,881.9 401.2,882.1 401.8,883.2 402.4,881.0 403.0,885.1 403.6,886.3 404.2,883.7 404.8,883.6 405.4,885.6 406.0,884.7 406.6,884.1 407.2,883.7 407.8,882.9 408.4,882.4 409.0,885.7 409.6,886.7 410.2,883.1 410.8,885.0 411.4,885.6 412.0,884.7 412.6,884.4 413.2,885.2 413.8,882.7 414.4,886.1 415.0,885.5 415.6,886.8 416.2,878.7 416.8,875.2 417.4,882.0 418.0,889.5 418.6,890.5 419.2,888.5 419.8,888.2 420.4,886.2 421.0,888.3 421.6,888.9 422.2,888.1 422.8,892.6 423.4,886.7 424.0,889.9 424.6,891.1 425.2,891.3 425.8,893.7 426.4,888.6 427.0,889.9 427.6,891.6 428.2,891.8 428.8,891.0 429.4,890.5 430.0,893.8 430.6,890.3 431.2,891.2 431.8,894.8 432.4,895.4 433.0,894.0 433.6,891.2 434.2,891.4 434.8,891.4 435.4,891.2 436.0,892.6 436.6,895.7 437.2,894.1 437.8,892.7 438.4,892.9 439.0,892.5 439.6,896.8 440.2,891.6 440.8,895.7 441.4,893.1 442.0,893.9 442.6,893.4 443.2,897.8 443.8,896.2 444.4,901.1 445.0,894.8 445.6,894.9 446.2,897.9 446.8,897.9 447.4,896.6 448.0,893.8 448.6,899.8 449.2,898.4 449.8,898.2 450.4,896.6 451.0,898.7 451.6,896.8 452.2,897.9 452.8,897.5 453.4,900.0 454.0,897.2 454.6,897.4 455.2,900.0 455.8,898.5 456.4,898.2 457.0,897.8 457.6,899.9 458.2,897.3 458.8,899.3 459.4,902.0 460.0,899.3 460.6,897.4 461.2,896.8 461.8,899.2 462.4,897.0 463.0,896.5 463.6,898.1 464.2,897.6 464.8,901.1 465.4,897.3 466.0,902.5 466.6,898.7 467.2,900.3 467.8,901.3 468.4,900.7 469.0,901.7 469.6,898.9 470.2,896.8 470.8,900.4 471.4,898.0 472.0,900.0 472.6,902.7 473.2,900.9 473.8,900.4 474.4,899.6 475.0,901.1 475.6,901.4 476.2,899.2 476.8,902.5 477.4,900.3 478.0,902.6 478.6,901.6 479.2,904.2 479.8,904.1 480.4,902.7 481.0,902.7 481.6,903.7 482.2,905.4 482.8,905.0 483.4,903.6 484.0,904.0 484.6,906.3 485.2,900.9 485.8,904.7 486.4,902.4 487.0,906.4 487.6,903.3 488.2,904.1 488.8,902.6 489.4,904.6 490.0,906.1 490.6,907.7 491.2,902.9 491.8,904.4 492.4,912.0 493.0,907.1 493.6,905.7 494.2,906.7 494.8,901.5 495.4,909.0 496.0,906.7 496.6,904.1 497.2,908.7 497.8,905.7 498.4,905.2"/>
<polyline fill="none" stroke="#0c06cc" stroke-width="4" stroke-linejoin="round" points="50.2,751.3 51.2,750.7 52.2,749.5 53.2,748.7 54.2,748.7 55.2,748.0 56.2,746.5 57.2,746.0 58.2,744.9 59.2,744.0 60.2,743.0 61.2,741.8 62.2,740.9 63.2,739.9 64.2,738.8 65.2,737.3 66.2,735.6 67.2,734.7 68.2,733.1 69.2,732.2 70.2,730.9 71.2,729.5 72.2,728.2 73.2,727.2 74.2,726.3 75.2,724.7 76.2,724.1 77.2,723.3 78.2,722.5 79.2,722.0 80.2,720.7 81.2,720.4 82.2,719.1 83.2,718.1 84.2,717.1 85.2,716.5 86.2,715.1 87.2,714.4 88.2,713.0 89.2,711.6 90.2,709.8 91.2,707.4 92.2,707.4 93.2,706.9 94.2,707.0 95.2,705.6 96.2,704.2 97.2,704.0 98.2,702.7 99.2,701.6 100.2,700.9 101.2,699.8 102.2,699.2 103.2,697.6 104.2,696.9 105.2,695.4 106.2,693.5 107.2,692.7 108.2,692.3 109.2,691.3 110.2,691.1 111.2,690.5 112.2,689.7 113.2,689.1 114.2,688.7 115.2,688.3 116.2,687.6 117.2,686.6 118.2,685.8 119.2,684.4 120.2,683.7 121.2,682.4 122.2,681.8 123.2,680.2 124.2,679.2 125.2,678.4 126.2,677.5 127.2,676.0 128.2,675.4 129.2,674.9 130.2,674.3 131.2,673.4 132.2,673.0 133.2,672.3 134.2,672.1 135.2,671.3 136.2,670.3 137.2,669.5 138.2,669.6 139.2,669.3 140.2,668.6 141.2,668.2 142.2,667.4 143.2,666.7 144.2,667.1 145.2,666.8 146.2,666.8 147.2,666.1 148.2,666.3 149.2,665.6 150.2,665.0 151.2,663.7 152.2,662.6 153.2,661.7 154.2,661.1 155.2,660.7 156.2,661.1 157.2,661.6 158.2,662.1 159.2,663.3 160.2,663.0 161.2,663.8 162.2,664.8 163.2,665.4 164.2,664.2 165.2,663.5 166.2,662.4 167.2,661.5 168.2,660.2 169.2,659.9 170.2,660.0 171.2,660.9 172.2,660.7 173.2,661.2 174.2,659.7 175.2,658.6 176.2,658.1 177.2,657.4 178.2,658.0 179.2,657.9 180.2,658.9 181.2,658.7 182.2,658.2 183.2,658.1 184.2,657.8 185.2,656.9 186.2,656.7 187.2,656.6 188.2,655.9 189.2,656.5 190.2,657.4 191.2,658.7 192.2,659.0 193.2,657.8 194.2,657.7 195.2,656.8 196.2,657.0 197.2,657.0 198.2,657.0 199.2,657.3 200.2,658.1 201.2,658.1 202.2,658.2 203.2,658.1 204.2,657.8 205.2,657.6 206.2,657.3 207.2,657.3 208.2,657.6 209.2,657.0 210.2,658.5 211.2,658.3 212.2,659.1 213.2,659.1 214.2,659.9 215.2,660.4 216.2,660.8 217.2,661.1 218.2,661.1 219.2,660.8 220.2,661.1 221.2,661.5 222.2,661.9 223.2,662.1 224.2,662.5 225.2,663.0 226.2,663.5 227.2,664.3 228.2,665.8 229.2,666.1 230.2,666.5 231.2,666.5 232.2,667.2 233.2,668.4 234.2,669.1 235.2,670.5 236.2,671.3 237.2,672.2 238.2,672.3 239.2,672.1 240.2,672.9 241.2,672.9 242.2,673.2 243.2,674.0 244.2,674.5 245.2,675.4 246.2,676.5 247.2,677.2 248.2,678.0 249.2,679.7 250.2,680.2 251.2,680.6 252.2,680.5 253.2,680.8 254.2,680.8 255.2,680.9 256.2,681.6 257.2,681.6 258.2,682.5 259.2,683.0 260.2,683.6 261.2,684.2 262.2,684.1 263.2,687.1 264.2,687.9 265.2,690.0 266.2,690.3 267.2,690.1 268.2,689.7 269.2,688.7 270.2,689.1 271.2,690.2 272.2,690.5 273.2,691.1 274.2,691.5 275.2,693.1 276.2,693.8 277.2,694.3 278.2,695.3 279.2,696.2 280.2,696.6 281.2,697.4 282.2,698.2 283.2,699.0 284.2,699.8 285.2,700.1 286.2,700.7 287.2,702.5 288.2,703.9 289.2,704.8 290.2,705.7 291.2,705.5 292.2,706.2 293.2,707.4 294.2,708.1 295.2,709.7 296.2,710.8 297.2,711.8 298.2,712.7 299.2,713.1 300.2,713.5 301.2,714.7 302.2,715.3 303.2,716.5 304.2,717.2 305.2,717.8 306.2,718.8 307.2,720.0 308.2,720.8 309.2,721.8 310.2,723.0 311.2,724.0 312.2,725.2 313.2,726.4 314.2,727.1 315.2,728.0 316.2,728.5 317.2,729.2 318.2,730.1 319.2,731.7 320.2,733.4 321.2,734.7 322.2,735.4 323.2,736.5 324.2,738.2 325.2,739.2 326.2,739.7 327.2,741.4 328.2,741.9 329.2,743.0 330.2,743.5 331.2,744.4 332.2,746.1 333.2,747.6 334.2,749.5 335.2,748.6 336.2,748.2 337.2,747.0 338.2,746.5 339.2,750.8 340.2,754.6 341.2,758.5 342.2,759.0 343.2,758.9 344.2,759.7 345.2,760.4 346.2,761.0 347.2,761.0 348.2,762.0 349.2,762.6 350.2,763.2 351.2,764.7 352.2,766.2 353.2,766.5 354.2,766.6 355.2,766.5 356.2,766.1 357.2,765.7 358.2,766.4 359.2,769.5 360.2,771.8 361.2,774.4 362.2,775.6 363.2,776.1 364.2,777.3 365.2,778.3 366.2,778.8 367.2,779.4 368.2,780.2 369.2,780.7 370.2,781.2 371.2,782.7 372.2,784.7 373.2,785.9 374.2,786.3 375.2,787.3 376.2,788.6 377.2,789.2 378.2,790.4 379.2,791.2 380.2,792.3 381.2,793.0 382.2,794.6 383.2,796.1 384.2,796.5 385.2,798.2 386.2,799.2 387.2,800.2 388.2,801.2 389.2,802.1 390.2,803.3 391.2,804.8 392.2,805.6 393.2,805.4 394.2,805.2 395.2,805.0 396.2,805.5 397.2,807.9 398.2,810.8 399.2,812.0 400.2,811.0 401.2,809.6 402.2,808.9 403.2,809.5 404.2,812.6 405.2,815.0 406.2,816.6 407.2,816.1 408.2,815.7 409.2,818.2 410.2,819.8 411.2,821.7 412.2,824.3 413.2,825.3 414.2,826.1 415.2,826.7 416.2,827.6 417.2,828.3 418.2,828.9 419.2,829.9 420.2,831.1 421.2,831.7 422.2,833.1 423.2,833.1 424.2,834.1 425.2,835.1 426.2,835.4 427.2,836.0 428.2,836.6 429.2,837.5 430.2,838.7 431.2,839.3 432.2,840.1 433.2,840.7 434.2,841.9 435.2,842.5 436.2,843.1 437.2,844.0 438.2,845.2 439.2,846.4 440.2,847.1 441.2,848.2 442.2,849.6 443.2,849.9 444.2,850.6 445.2,851.9 446.2,852.6 447.2,853.2 448.2,854.0 449.2,854.6 450.2,855.6 451.2,856.1 452.2,857.1 453.2,857.4 454.2,858.2 455.2,859.2 456.2,859.8 457.2,860.8 458.2,861.4 459.2,862.0 460.2,863.0 461.2,863.5 462.2,864.0 463.2,864.9 464.2,865.7 465.2,866.5 466.2,867.4 467.2,868.4 468.2,869.0 469.2,870.2 470.2,871.0 471.2,871.5 472.2,872.9 473.2,873.6 474.2,874.1 475.2,875.0 476.2,876.0 477.2,876.5 478.2,877.4 479.2,878.0 480.2,878.8 481.2,879.2 482.2,880.1 483.2,880.5 484.2,881.4 485.2,881.5 486.2,882.6 487.2,883.5 488.2,883.9 489.2,884.4 490.2,885.1 491.2,885.4 492.2,886.0 493.2,886.7 494.2,887.4 495.2,888.3 496.2,888.5 497.2,889.6 498.2,889.6"/>
<rect x="50.2" y="569.6" width="448.40000000000003" height="471.30000000000007" fill="none" stroke="#000" stroke-width="2"/>
<path d="M80.1,1040.9v-4.8M80.1,569.6v4.8M110.0,1040.9v-4.8M110.0,569.6v4.8M139.9,1040.9v-4.8M139.9,569.6v4.8M169.8,1040.9v-4.8M169.8,569.6v4.8M199.7,1040.9v-10M199.7,569.6v10M229.6,1040.9v-4.8M229.6,569.6v4.8M259.5,1040.9v-4.8M259.5,569.6v4.8M289.3,1040.9v-4.8M289.3,569.6v4.8M319.2,1040.9v-4.8M319.2,569.6v4.8M349.1,1040.9v-10M349.1,569.6v10M379.0,1040.9v-4.8M379.0,569.6v4.8M408.9,1040.9v-4.8M408.9,569.6v4.8M438.8,1040.9v-4.8M438.8,569.6v4.8M468.7,1040.9v-4.8M468.7,569.6v4.8M50.2,1023.7h9.5M498.6,1023.7h-9.5M50.2,978.2h5M498.6,978.2h-5M50.2,932.7h9.5M498.6,932.7h-9.5M50.2,887.2h5M498.6,887.2h-5M50.2,841.7h9.5M498.6,841.7h-9.5M50.2,796.2h5M498.6,796.2h-5M50.2,750.7h9.5M498.6,750.7h-9.5M50.2,705.2h5M498.6,705.2h-5M50.2,659.7h9.5M498.6,659.7h-9.5M50.2,614.2h5M498.6,614.2h-5" stroke="#000" stroke-width="1.8" fill="none"/>
<text x="50.2" y="1069.5" font-size="23" text-anchor="middle">1.20</text>
<text x="199.7" y="1069.5" font-size="23" text-anchor="middle">1.25</text>
<text x="349.1" y="1069.5" font-size="23" text-anchor="middle">1.30</text>
<text x="498.6" y="1069.5" font-size="23" text-anchor="middle">1.35</text>
<text x="213" y="1109" font-size="23">Energy (eV)</text>
<text transform="translate(20.1,912.5) rotate(-90)" font-size="23">Intensity (arb. units)</text>
<text x="65.5" y="603.5" font-size="23">(b)</text>
<rect x="322" y="940.8" width="150.5" height="84" fill="#fff" stroke="#000" stroke-width="1.5"/>
<line x1="323.7" y1="954.5" x2="377" y2="954.5" stroke="#000" stroke-width="3"/>
<line x1="323.7" y1="983" x2="377" y2="983" stroke="#f80000" stroke-width="3"/>
<line x1="323.7" y1="1010.7" x2="377" y2="1010.7" stroke="#0c06cc" stroke-width="3"/>
<text x="383" y="964" font-size="23">3 Layers</text>
<text x="383" y="992.5" font-size="23">5 Layers</text>
<text x="383" y="1020" font-size="23">Bulk</text>
<g id="inset">
<defs><clipPath id="ic"><rect x="326.6" y="582.8" width="158.2" height="158"/></clipPath><linearGradient id="bg" x1="0" y1="0" x2="1" y2="0"><stop offset="0" stop-color="#843a08"/><stop offset="0.3" stop-color="#7d3406"/><stop offset="1" stop-color="#7b3404"/></linearGradient></defs>
<g clip-path="url(#ic)">
<rect x="326.6" y="582.8" width="158.2" height="158" fill="url(#bg)"/>
<g stroke="#934a1a" stroke-width="1" opacity="0.5"><line x1="334" y1="600" x2="345" y2="596"/><line x1="340" y1="611" x2="352" y2="606"/><line x1="360" y1="640" x2="372" y2="633"/><line x1="330" y1="700" x2="338" y2="696"/></g>
<path d="M387.5,606 L392,606 L432.5,639 L415.5,673 L380,672 L374,688 L369.8,686 L368.4,676 Z" fill="#915308"/>
<path d="M405,640 L432.5,639 L415.5,673 L400,673 Z" fill="#7e4004" opacity="0.35"/>
<path d="M477.5,582 L481,582 L472.5,632 Q470,638 464,638 L462,636 Z" fill="#9a560c"/>
<path d="M388.8,582 L478.6,582 L470,629 Q468,637 461,637.5 L402,638.5 Q393.5,638 393,629 L392.2,612 Z" fill="#efebdf"/>
<path d="M392.5,611 L460,609 L471,610 L469,630 Q467.5,637 461,637.5 L402,638.5 Q393.5,638 393,629 Z" fill="#f7f4ec"/>
<path d="M440,622 L468,618 L468,633 Q466,636.5 460,636.6 L430,637 Z" fill="#fdfcf8"/>
<path d="M383,670.6 L400,673.3 L431.5,682.6 Q436.3,684.5 435.8,690 L426.5,741 L349,741 Q349.3,731 352.5,727 Q356,724.5 359.6,720.6 L366.4,708.5 L379.2,674 Q380,670.6 383,670.6 Z" fill="#f1e9d4"/>
<path d="M385,673 L407,678 L409,697 L400,702.5 L381,690 L379.5,678 Z" fill="#f9f7f0"/>
<g stroke="#d9a55c" stroke-width="1.6"><line x1="419" y1="665.8" x2="426.5" y2="664.6"/><line x1="418.5" y1="669.6" x2="426" y2="668.4"/></g>
</g>
<rect x="433.1" y="727.3" width="45.7" height="3.7" fill="#fff"/>
<text class="w" x="433" y="720.4" font-size="19.6">2 µm</text>
</g>
</g>
</svg>
</body></html>
